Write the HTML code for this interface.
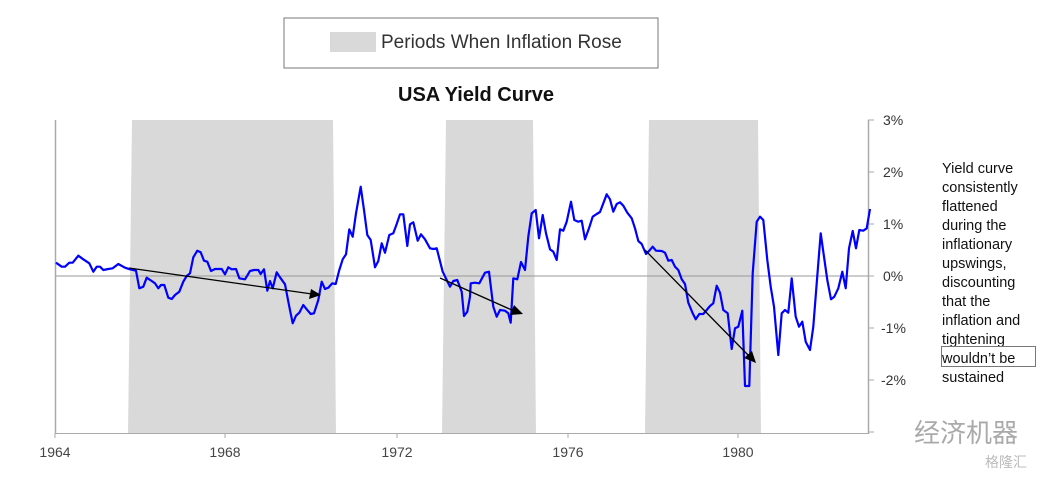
<!DOCTYPE html>
<html><head><meta charset="utf-8"><style>
body{margin:0;background:#fff;width:1054px;height:478px;overflow:hidden;font-family:"Liberation Sans","Noto Sans CJK SC",sans-serif}
</style></head><body>
<svg width="1054" height="478" xmlns="http://www.w3.org/2000/svg" font-family="Liberation Sans, Noto Sans CJK SC, sans-serif">
<rect x="284" y="18" width="374" height="50" fill="#fff" stroke="#777" stroke-width="1"/>
<rect x="330" y="32" width="46" height="20" fill="#d9d9d9"/>
<text x="381" y="48" font-size="19" fill="#333">Periods When Inflation Rose</text>
<text x="476" y="101" font-size="20" font-weight="bold" text-anchor="middle" fill="#111">USA Yield Curve</text>
<polygon points="132,120 333,120 336,433 128,433" fill="#d9d9d9"/>
<polygon points="446,120 533,120 536,433 442,433" fill="#d9d9d9"/>
<polygon points="649,120 758,120 761,433 645,433" fill="#d9d9d9"/>
<line x1="55" y1="276" x2="869" y2="276" stroke="#999" stroke-width="1"/>
<line x1="55.5" y1="120" x2="55.5" y2="434" stroke="#aaa" stroke-width="1.5"/>
<line x1="868.5" y1="120" x2="868.5" y2="434" stroke="#aaa" stroke-width="1.5"/>
<line x1="55" y1="433.5" x2="869" y2="433.5" stroke="#aaa" stroke-width="1"/>
<g stroke="#aaa" stroke-width="1">
<line x1="868" y1="120" x2="874" y2="120"/><line x1="868" y1="172" x2="874" y2="172"/><line x1="868" y1="224" x2="874" y2="224"/><line x1="868" y1="276" x2="874" y2="276"/><line x1="868" y1="328" x2="874" y2="328"/><line x1="868" y1="380" x2="874" y2="380"/><line x1="868" y1="432" x2="874" y2="432"/>
<line x1="55" y1="433" x2="55" y2="438"/><line x1="225" y1="433" x2="225" y2="438"/><line x1="397" y1="433" x2="397" y2="438"/><line x1="568" y1="433" x2="568" y2="438"/><line x1="738" y1="433" x2="738" y2="438"/>
</g>
<g font-size="14" fill="#333">
<text x="883" y="125">3%</text><text x="883" y="177">2%</text><text x="883" y="229">1%</text><text x="883" y="281">0%</text><text x="881" y="333">-1%</text><text x="881" y="385">-2%</text>
</g>
<g font-size="14" fill="#444" text-anchor="middle">
<text x="55" y="457">1964</text><text x="225" y="457">1968</text><text x="397" y="457">1972</text><text x="568" y="457">1976</text><text x="738" y="457">1980</text>
</g>
<polyline fill="none" stroke="#0000ff" stroke-width="2.2" stroke-linejoin="round" points="56,262.7 61.7,266.7 65,266.7 69.3,262.7 72.7,262.7 78.3,255.7 83.3,259.3 89.3,263.3 93.3,271.7 96.7,266.7 100,266.7 103.3,270 108.3,269 112.7,268.3 118.3,264 125,267.7 130,269.3 136,270.7 139.3,288.3 143.3,286.7 146.7,277.7 151.7,281 155,283.3 158.3,288.3 161,285 164.3,285 168.3,297.7 171.7,299 175,295 179.3,291.7 183.3,281.7 186.7,276 190,273.3 193.3,257.3 197.3,250.7 200.7,252.3 204,260.7 207.3,261.7 211,271 215,269 221.7,269 225,274.3 228.3,267.3 231.7,269.3 236,269 239.3,278.3 245,279.3 250,271 254,270 258.3,270 260.7,274 264,269.3 267.3,290.7 270,281 272.7,288.3 276.7,272.3 280,277.3 285,284.3 289.3,306.7 292.7,323.3 296,315.7 299.3,312.7 303.3,305 306.7,309.3 310.7,314 314,313.3 318.3,300 321.7,281.7 325,289 328.3,287.7 332.3,283.3 335.7,284 339.3,270 342.7,259.3 346,254.3 349.3,229.3 352.7,236.7 356,213.3 360.7,186.7 364,210 367.3,235 370.7,240 375,267.3 378.3,261 381.7,243.3 385,252.7 389.3,235 393.3,233.3 396.7,224 400,214.3 403.3,214.3 407.3,246 410,224.3 413.3,222.3 417.7,240.7 421,234.3 425,239.3 430,248.3 433.3,249 436.7,248.3 442.7,271.7 446.7,280 450,286.7 453.3,281 457.3,280 461.7,291.7 464,316 467.3,311.7 470,296.7 470.7,283.3 475,282.7 479.3,283.3 485,272.7 489,271.7 493.3,306.7 496.7,316.7 500,310 505,310.7 508.3,313.3 510.7,322.7 513.3,278.3 517.3,279.3 521,262 525,270 528.3,236.7 531.7,213.3 535.7,210 539,238.3 542.7,215 546,233.3 550,249.3 553.3,251.7 556.7,260 560,229.3 563.3,230.7 566.7,221.7 571,201.7 574.3,220 578.3,221.7 581.7,220.7 585,239.3 589,228.3 592.7,216.7 596.7,214 600,212 603.3,203.3 606.7,194.3 610,199.3 613.3,211.7 616.7,204 620,202.3 623.3,205.7 627.3,212.7 631.7,218.3 635,228.3 638.3,241 641.7,244 646,254 649.3,250.7 652.7,246.7 656,250.7 661.7,251 665,252.7 668.3,260.7 671.7,260 675,266.7 678.3,270 681.7,279.3 685,284 688.3,302.7 692.7,313.3 695.7,319.3 699.3,314 703.3,314 706.7,310 710,306 713.3,303.3 716.7,285.7 720,292.7 723.3,310 727.7,313.3 731.7,349 735,328.3 738.3,326.7 742.3,310.7 745,386 749.3,386 752.7,273.3 756.7,221.7 760,216.7 763.3,220 767.3,260 770.7,286.7 774,306.7 778.3,355 781.7,313.3 785,310 788.3,312.7 791.7,278.3 795.7,316.7 799,326.7 802.3,321.7 805.7,341.7 810,350 813.3,326.7 816.7,283.3 820.7,233.3 824,256.7 827.3,280 831,299.3 834.3,296.7 838.3,288.3 842.3,271.7 845.7,288.3 849,248.3 852.7,231 856,248.3 859.3,230 863.3,230.7 866.7,228.3 870,209"/>
<g stroke="#000" stroke-width="1.3">
<line x1="129" y1="268" x2="312" y2="294"/>
<line x1="440" y1="278" x2="514" y2="311"/>
<line x1="645" y1="250" x2="749" y2="356"/>
</g>
<polygon points="321,295 309,299 311,289" fill="#000"/>
<polygon points="523,314 510,315 514,305" fill="#000"/>
<polygon points="756,363 744,358 752,351" fill="#000"/>
<g font-size="14.5" fill="#111">
<text x="942" y="173">Yield curve</text>
<text x="942" y="192">consistently</text>
<text x="942" y="211">flattened</text>
<text x="942" y="230">during the</text>
<text x="942" y="249">inflationary</text>
<text x="942" y="268">upswings,</text>
<text x="942" y="287">discounting</text>
<text x="942" y="306">that the</text>
<text x="942" y="325">inflation and</text>
<text x="942" y="344">tightening</text>
<text x="942" y="363">wouldn’t be</text>
<text x="942" y="382">sustained</text>
</g>
<rect x="941.5" y="346.5" width="94" height="20" fill="none" stroke="#777" stroke-width="1"/>
<text x="914" y="442" font-size="26" fill="#aaa">经济机器</text>
<text x="985" y="467" font-size="14" fill="#bbb">格隆汇</text>
</svg>
</body></html>
